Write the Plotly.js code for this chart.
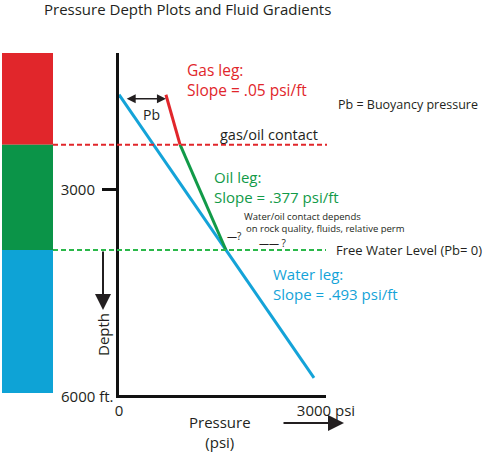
<!DOCTYPE html>
<html>
<head>
<meta charset="utf-8">
<script src="https://cdn.plot.ly/plotly-3.0.1.min.js"></script>
<style>
  html, body { margin: 0; padding: 0; background: #fff; }
  #chart { width: 484px; height: 453px; }
</style>
</head>
<body>
<div id="chart"></div>
<script>
// depths in ft, pressures in psi
var gocDepth = 2340;
var fwlDepth = 3880;

var zoneNames = ["Gas", "Oil", "Water"];
var zoneTops = [1000, 2340, 3880];
var zoneBottoms = [2340, 3880, 5970];
var zoneColors = ["#e1262b", "#0b9448", "#0ea3d6"];

var waterPressure = [0, 2826];
var waterDepth = [1610, 5750];
var gasPressure = [680, 885];
var gasDepth = [1610, 2340];
var oilPressure = [885, 1550];
var oilDepth = [2340, 3880];

var xTickVals = [0, 3000];
var xTickText = ["0", "3000 psi"];
var yTickVals = [3000];
var yTickText = ["3000"];

var W = 484, H = 453;
function px(x) { return x / W; }
function py(y) { return 1 - y / H; }

var ink = "#231f20";
var red = "#e1262b", green = "#119a48", blue = "#14a3d8";
var fam = "Open Sans, Arial, sans-serif";

var zoneBars = {
  type: "bar",
  x: zoneNames.map(function () { return 0; }),
  y: zoneTops.map(function (t, i) { return zoneBottoms[i] - t; }),
  base: zoneTops,
  text: zoneNames,
  textposition: "none",
  marker: { color: zoneColors, line: { width: 0 } },
  width: 1,
  xaxis: "x2",
  yaxis: "y",
  hoverinfo: "text"
};

function leg(p, d, color, name) {
  return {
    type: "scatter", mode: "lines", x: p, y: d, name: name,
    line: { color: color, width: 3 }, cliponaxis: false
  };
}

var data = [
  zoneBars,
  leg(waterPressure, waterDepth, blue, "Water leg"),
  leg(oilPressure, oilDepth, green, "Oil leg"),
  leg(gasPressure, gasDepth, red, "Gas leg")
];

function label(text, x, y, size, color, extra) {
  var a = {
    text: text, xref: "paper", yref: "paper", x: px(x), y: py(y),
    xanchor: "left", yanchor: "middle", showarrow: false, align: "left",
    font: { family: fam, size: size, color: color || ink }
  };
  for (var k in extra) a[k] = extra[k];
  return a;
}

var annotations = [
  label("Gas leg:<br>Slope = .05 psi/ft", 185, 80, 15.5, red),
  label("Oil leg:<br>Slope = .377 psi/ft", 212, 187, 15, green),
  label("Water leg:<br>Slope = .493 psi/ft", 271, 284, 15, blue),
  label("Pb = Buoyancy pressure", 336, 104, 12.5),
  label("gas/oil contact", 218, 135, 14.5),
  label("Free Water Level (Pb= 0)", 334, 250, 13),
  label("Water/oil contact depends", 242, 216, 9.5),
  label("on rock quality, fluids, relative perm", 244, 228, 9.5),
  label("\u2014?", 225, 236, 10),
  label("\u2014\u2014 ?", 257, 243, 10),
  label("Pb", 151, 115, 14, ink, { xanchor: "center" }),
  label("6000 ft.", 116, 396, 15, ink, { xanchor: "right" }),
  label("Pressure<br>(psi)", 220, 432, 15, ink, { xanchor: "center", align: "center" }),
  label("Depth", 103, 335, 15, ink, { xanchor: "center", textangle: -90 }),
  // Pb double arrow between the water and gas lines
  {
    xref: "x", yref: "y", x: gasPressure[0], y: 1670,
    axref: "x", ayref: "y", ax: 90, ay: 1670, text: "",
    showarrow: true, arrowhead: 2, startarrowhead: 2, arrowside: "end+start",
    arrowsize: 1.2, arrowwidth: 1.5, arrowcolor: ink
  },
  // depth arrow
  {
    xref: "paper", yref: "paper", x: px(103), y: py(310),
    axref: "pixel", ayref: "pixel", ax: 0, ay: -60, text: "",
    showarrow: true, arrowhead: 2, arrowsize: 1.6, arrowwidth: 2, arrowcolor: ink
  },
  // pressure arrow
  {
    xref: "paper", yref: "paper", x: px(344), y: py(423),
    axref: "pixel", ayref: "pixel", ax: -62, ay: 0, text: "",
    showarrow: true, arrowhead: 2, arrowsize: 1.6, arrowwidth: 2, arrowcolor: ink
  }
];

var shapes = [
  {
    type: "line", xref: "paper", yref: "y", x0: px(53), x1: px(327),
    y0: gocDepth, y1: gocDepth, line: { color: red, width: 2, dash: "5px,3px" }
  },
  {
    type: "line", xref: "paper", yref: "y", x0: px(53), x1: px(326),
    y0: fwlDepth, y1: fwlDepth, line: { color: "#2bb84a", width: 2, dash: "5px,3px" }
  }
];

var layout = {
  width: W, height: H,
  margin: { l: 0, r: 0, t: 0, b: 0 },
  paper_bgcolor: "#fff", plot_bgcolor: "rgba(0,0,0,0)",
  showlegend: false,
  font: { family: fam, color: ink },
  title: {
    text: "Pressure Depth Plots and Fluid Gradients",
    xref: "paper", yref: "paper", x: px(44), xanchor: "left",
    y: py(10), yanchor: "middle",
    font: { family: fam, size: 15, color: ink }
  },
  xaxis: {
    domain: [px(119), px(326)], range: [0, 3000],
    showline: true, linewidth: 3, linecolor: "#111",
    showgrid: false, zeroline: false, ticks: "",
    tickvals: xTickVals, ticktext: xTickText,
    tickfont: { size: 15, color: ink }, anchor: "y"
  },
  xaxis2: {
    domain: [px(2), px(53)], range: [-0.5, 0.5], visible: false, anchor: "y"
  },
  yaxis: {
    domain: [py(395), py(53)], range: [6000, 1000],
    showline: true, linewidth: 3, linecolor: "#111",
    showgrid: false, zeroline: false,
    ticks: "outside", ticklen: 14, tickwidth: 3, tickcolor: "#111",
    tickvals: yTickVals, ticktext: yTickText,
    tickfont: { size: 15, color: ink }, ticklabelstandoff: 4
  },
  annotations: annotations,
  shapes: shapes
};

Plotly.newPlot("chart", data, layout, { staticPlot: true });
</script>
</body>
</html>
